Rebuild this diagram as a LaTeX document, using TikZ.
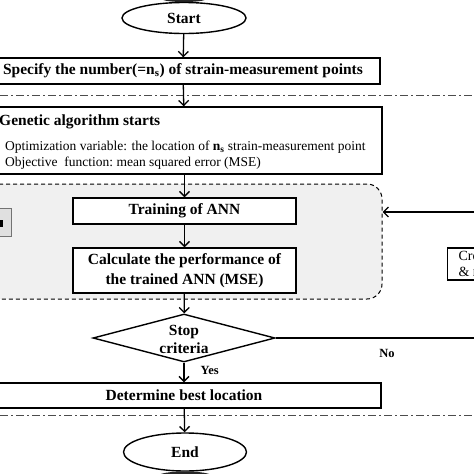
\documentclass[tikz,border=0pt]{standalone}
\usepackage{fontspec}
\setmainfont{Liberation Serif}
\usetikzlibrary{shapes.geometric,arrows.meta}
\begin{document}
\begin{tikzpicture}[x=1pt,y=-1pt,
  box/.style={draw,line width=1.4pt,inner sep=0pt,font=\bfseries\fontsize{15.5}{18}\selectfont,align=center},
  term/.style={box,ellipse},
  arr/.style={-{Straight Barb[length=5pt,width=10pt]},line width=1.3pt},
  ln/.style={line width=1.3pt},
  sep/.style={line width=1pt,black!70,dash pattern=on 8pt off 3pt on 2pt off 3pt},
  lbl/.style={font=\bfseries\fontsize{12.5}{14}\selectfont,inner sep=0pt},
  txt/.style={font=\fontsize{13.5}{16}\selectfont,inner sep=0pt,anchor=west}
]
\useasboundingbox (0,0) rectangle (474,474);
\clip (0,0) rectangle (474,474);
\fill[white] (0,0) rectangle (474,474);

% shadows of the terminals
\fill[black!85] (184,-1) ellipse [x radius=22pt,y radius=3pt];
\fill[black!85] (185,475.5) ellipse [x radius=26pt,y radius=4pt];

% separators
\draw[sep] (0,95) -- (474,95);
\draw[sep] (0,415) -- (474,415);

% loop region
\node[draw,dash pattern=on 4pt off 3pt,line width=1pt,fill=black!6,rounded corners=15pt,
      minimum width=402pt,minimum height=115pt,inner sep=0pt] (loop) at (181,241.5) {};

% left partial box
\node[draw=black!55,fill=black!12,line width=1pt,minimum width=31pt,minimum height=28pt,inner sep=0pt] (lbox) at (-4.5,222) {};
\fill[black] (0,220) rectangle (3,227);

\node[term,minimum width=124pt,minimum height=31pt,fill=white] (start) at (184,18) {Start};
\node[box,minimum width=394pt,minimum height=26pt,fill=white] (spec) at (183,71)
  {Specify the number(=n\textsubscript{s}) of strain-measurement points};
\node[box,minimum width=395pt,minimum height=67pt,fill=white] (ga) at (184.5,140.5) {};
\node[txt,font=\bfseries\fontsize{15.5}{18}\selectfont] (gat) at (-1,122) {Genetic algorithm starts};
\node[txt,text width=367pt,align=justify] (ga1) at (5,147) {Optimization variable: the location of \textbf{n}\textsubscript{\textbf{s}} strain-measurement point};
\node[txt] (ga2) at (5,163) {Objective\ \ function:\ mean squared error (MSE)};

\node[box,minimum width=223pt,minimum height=26pt,fill=white] (train) at (184.5,211) {Training of ANN};
\node[box,minimum width=223pt,minimum height=45pt,fill=white,font=\bfseries\fontsize{15.5}{20}\selectfont] (calc) at (184.5,270.5)
  {Calculate the performance of\\the trained ANN (MSE)};

\node[diamond,draw,line width=1.4pt,minimum width=182pt,minimum height=48pt,inner sep=0pt,fill=white] (stop) at (184,338) {};
\node[font=\bfseries\fontsize{15.5}{18}\selectfont,align=center,inner sep=0pt] (stopt) at (184,339) {Stop\\criteria};

\node[box,minimum width=394pt,minimum height=25pt,fill=white] (best) at (184,395.5) {Determine best location};
\node[term,minimum width=123pt,minimum height=38pt,fill=white] (end) at (185,452) {End};

% right partial box
\node[draw,line width=1.2pt,minimum height=32pt,inner xsep=11pt,inner ysep=0pt,anchor=west,
      align=left,font=\fontsize{14}{16}\selectfont] (xo) at (447,264) {Crossover\\\& mutation};

% connectors
\draw[arr] (start) -- (spec);
\draw[arr] (spec) -- (ga);
\draw[arr] (ga) -- (train);
\draw[arr] (train) -- (calc);
\draw[arr] (calc) -- (stop);
\draw[arr] (stop) -- node[lbl,right=16pt,pos=0.4] (yes) {Yes} (best);
\draw[arr] (best) -- (end);
\coordinate (noend) at (480,338);
\draw[ln] (stop.east) -- (noend);
\node[lbl] (no) at (387,353) {No};
\coordinate (back) at (480,212);
\draw[arr] (back) -- (loop.east |- back);
\end{tikzpicture}
\end{document}
